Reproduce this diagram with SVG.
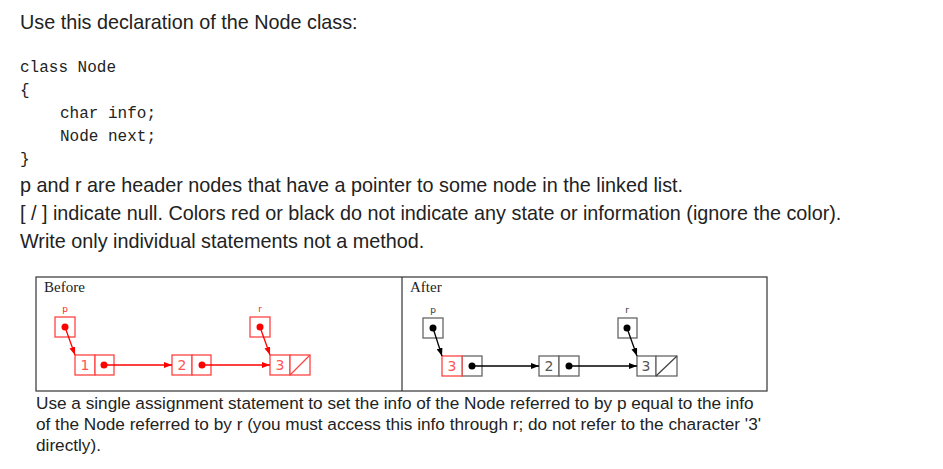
<svg xmlns="http://www.w3.org/2000/svg" width="943" height="469" viewBox="0 0 943 469">
<defs>
<marker id="ar" markerWidth="8" markerHeight="6" refX="8" refY="3" orient="auto" markerUnits="userSpaceOnUse"><path d="M0,0L8,3L0,6z" fill="#f00"/></marker>
<marker id="ab" markerWidth="8" markerHeight="6" refX="8" refY="3" orient="auto" markerUnits="userSpaceOnUse"><path d="M0,0L8,3L0,6z" fill="#000"/></marker>
</defs>
<style>
.t{font-family:"Liberation Sans",Arial,sans-serif;fill:#222}
.c{font-family:"Liberation Mono","Courier New",monospace;font-size:16px;fill:#222}
.h{font-family:"Liberation Serif","Times New Roman",serif;font-size:15px;fill:#222}
.rb{fill:#fff;stroke:#f44;stroke-width:1.3}
.gb{fill:#fff;stroke:#666;stroke-width:1.3}
.rl{font-family:"DejaVu Sans",sans-serif;font-size:9px;fill:#f22;text-anchor:middle}
.gl{font-family:"DejaVu Sans",sans-serif;font-size:9px;fill:#333;text-anchor:middle}
.rn{font-family:"DejaVu Sans",sans-serif;font-size:14px;fill:#f55;text-anchor:middle}
.gn{font-family:"DejaVu Sans",sans-serif;font-size:14px;fill:#555;text-anchor:middle}
</style>
<rect width="943" height="469" fill="#fff"/>
<text class="t" x="20" y="29" font-size="19.8">Use this declaration of the Node class:</text>
<text class="c" x="20" y="72">class Node</text>
<text class="c" x="20" y="95">{</text>
<text class="c" x="60" y="118">char info;</text>
<text class="c" x="60" y="141">Node next;</text>
<text class="c" x="20" y="164">}</text>
<text class="t" x="20" y="192" font-size="19.8">p and r are header nodes that have a pointer to some node in the linked list.</text>
<text class="t" x="20" y="220" font-size="19.8">[ / ] indicate null. Colors red or black do not indicate any state or information (ignore the color).</text>
<text class="t" x="20" y="248" font-size="19.8">Write only individual statements not a method.</text>
<rect x="36" y="277" width="731" height="114" fill="none" stroke="#333" stroke-width="1.2"/>
<line x1="402" y1="277" x2="402" y2="391" stroke="#333" stroke-width="1.2"/>
<text class="h" x="44" y="292">Before</text>
<text class="h" x="410" y="292">After</text>
<g id="before-p"><text class="rl" x="65" y="312">p</text><rect class="rb" x="55" y="317" width="20" height="20"/><circle cx="65" cy="327" r="3.5" fill="#f00"/></g>
<g id="before-r"><text class="rl" x="260" y="312">r</text><rect class="rb" x="250" y="317" width="20" height="20"/><circle cx="260" cy="327" r="3.5" fill="#f00"/></g>
<g id="before-n1"><rect class="rb" x="75" y="355" width="20" height="20"/><rect class="rb" x="95" y="355" width="19" height="20"/><text class="rn" x="85" y="370">1</text><circle cx="104" cy="365" r="3.5" fill="#f00"/></g>
<g id="before-n2"><rect class="rb" x="172" y="355" width="20" height="20"/><rect class="rb" x="192" y="355" width="19" height="20"/><text class="rn" x="182" y="370">2</text><circle cx="202" cy="365" r="3.5" fill="#f00"/></g>
<g id="before-n3"><rect class="rb" x="270" y="355" width="20" height="20"/><rect class="rb" x="290" y="355" width="20" height="20"/><text class="rn" x="280" y="370">3</text><line x1="290" y1="375" x2="310" y2="355" stroke="#f44" stroke-width="1.3"/></g>
<g id="after-p"><text class="gl" x="433" y="313">p</text><rect class="gb" x="423" y="318" width="20" height="20"/><circle cx="433" cy="328" r="3.5" fill="#000"/></g>
<g id="after-r"><text class="gl" x="627" y="313">r</text><rect class="gb" x="618" y="318" width="19" height="20"/><circle cx="627" cy="328" r="3.5" fill="#000"/></g>
<g id="after-n1"><rect class="gb" x="462" y="356" width="20" height="20"/><rect class="rb" x="442" y="356" width="20" height="20"/><text class="rn" x="452" y="371">3</text><circle cx="472" cy="366" r="3.5" fill="#000"/></g>
<g id="after-n2"><rect class="gb" x="539" y="356" width="20" height="20"/><rect class="gb" x="559" y="356" width="20" height="20"/><text class="gn" x="549" y="371">2</text><circle cx="569" cy="366" r="3.5" fill="#000"/></g>
<g id="after-n3"><rect class="gb" x="637" y="356" width="19" height="20"/><rect class="gb" x="656" y="356" width="21" height="20"/><text class="gn" x="646" y="371">3</text><line x1="656" y1="376" x2="677" y2="356" stroke="#444" stroke-width="1.3"/></g>
<g id="connectors" stroke-width="1.3">
<line x1="65" y1="327" x2="75" y2="355" stroke="#f00" marker-end="url(#ar)"/>
<line x1="104" y1="365" x2="172" y2="365" stroke="#f00" marker-end="url(#ar)"/>
<line x1="202" y1="365" x2="270" y2="365" stroke="#f00" marker-end="url(#ar)"/>
<line x1="260" y1="327" x2="270" y2="355" stroke="#f00" marker-end="url(#ar)"/>
<line x1="433" y1="328" x2="442" y2="356" stroke="#000" marker-end="url(#ab)"/>
<line x1="472" y1="366" x2="539" y2="366" stroke="#000" marker-end="url(#ab)"/>
<line x1="569" y1="366" x2="637" y2="366" stroke="#000" marker-end="url(#ab)"/>
<line x1="627" y1="328" x2="637" y2="356" stroke="#000" marker-end="url(#ab)"/>
</g>
<text class="t" x="36" y="409" font-size="17.2">Use a single assignment statement to set the info of the Node referred to by p equal to the info</text>
<text class="t" x="36" y="430" font-size="17.2">of the Node referred to by r (you must access this info through r; do not refer to the character '3'</text>
<text class="t" x="36" y="451" font-size="17.2">directly).</text>
</svg>
